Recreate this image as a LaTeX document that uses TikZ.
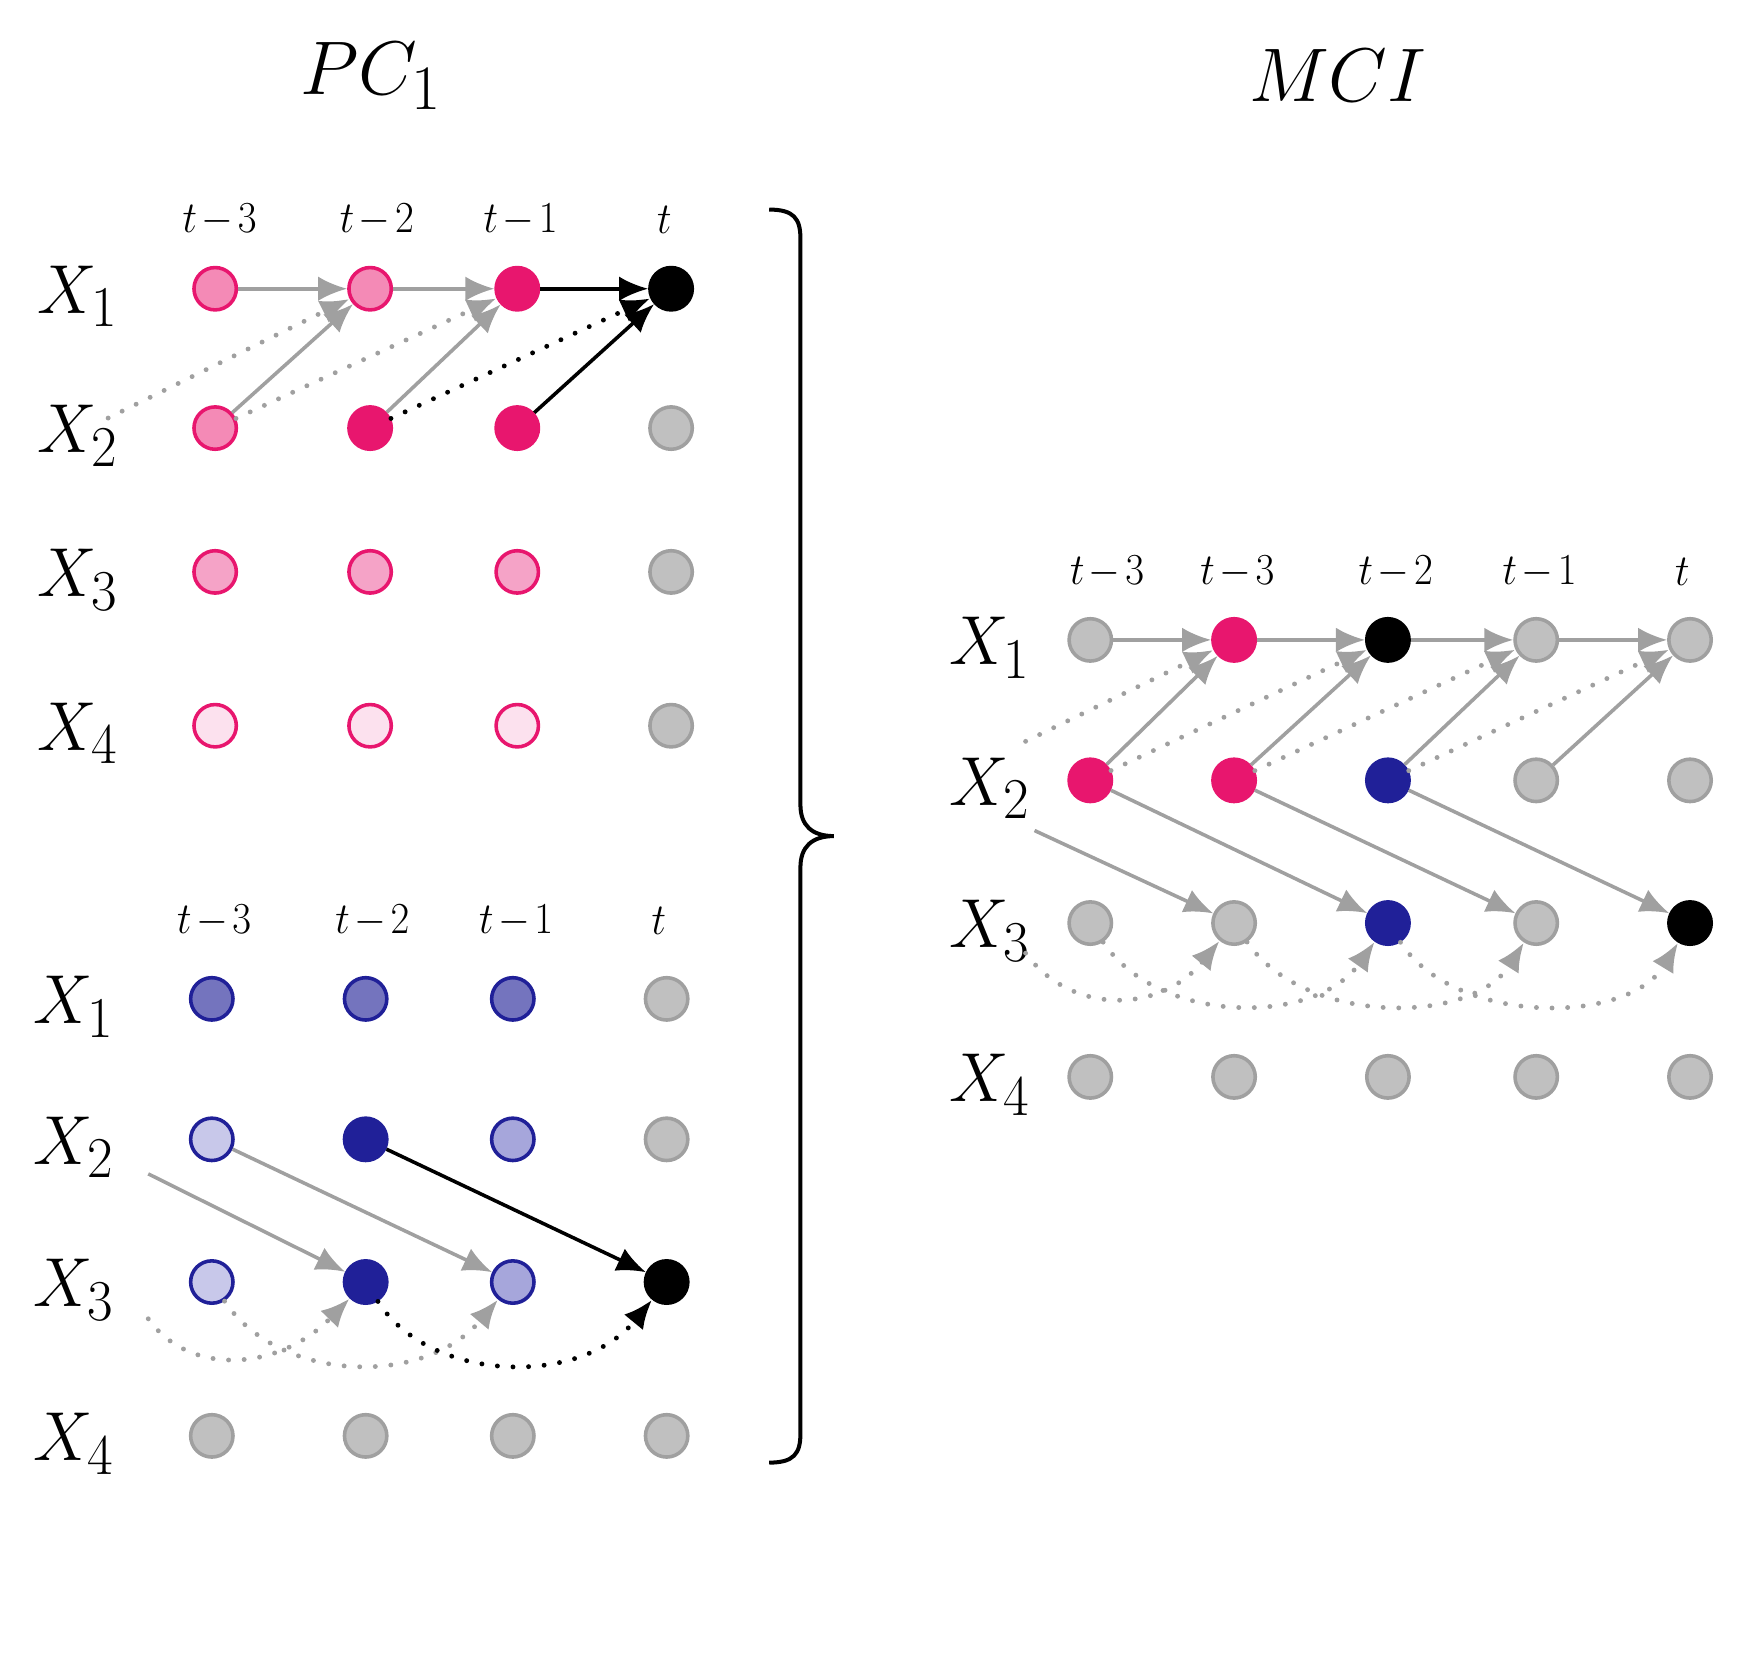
\documentclass[tikz,border=0pt]{standalone}
\usetikzlibrary{arrows.meta}
\definecolor{pk}{RGB}{232,22,110}
\definecolor{pkA}{RGB}{244,138,182}
\definecolor{pkB}{RGB}{245,163,199}
\definecolor{pkC}{RGB}{252,225,238}
\definecolor{bl}{RGB}{32,32,152}
\definecolor{blA}{RGB}{116,116,190}
\definecolor{blB}{RGB}{166,166,219}
\definecolor{blC}{RGB}{200,200,234}
\definecolor{gF}{RGB}{192,192,192}
\definecolor{gB}{RGB}{160,160,160}
\newcommand{\rlab}[1]{\scalebox{1.2}[1.25]{$X_{#1}$}}
\newcommand{\ttl}[1]{\scalebox{1.37}{$#1$}}
\newcommand{\clab}[1]{\scalebox{1.06}[1.15]{$#1$}}
\tikzset{
  dot/.style={circle,minimum size=19pt,inner sep=0pt,line width=1.6pt},
  gn/.style={dot,draw=gB,fill=gF},
  pA/.style={dot,draw=pk,fill=pkA},
  pB/.style={dot,draw=pk,fill=pkB},
  pC/.style={dot,draw=pk,fill=pkC},
  pS/.style={dot,draw=pk,fill=pk},
  bA/.style={dot,draw=bl,fill=blA},
  bB/.style={dot,draw=bl,fill=blB},
  bC/.style={dot,draw=bl,fill=blC},
  bS/.style={dot,draw=bl,fill=bl},
  kS/.style={dot,draw=black,fill=black},
  ga/.style={draw=gB,line width=1.6pt,-{Latex[length=13pt,width=11pt]}},
  ka/.style={draw=black,line width=1.6pt,-{Latex[length=13pt,width=11pt]}},
  gd/.style={ga,line cap=round,line width=2.2pt,dash pattern=on 0pt off 7pt},
  kd/.style={ka,line cap=round,line width=2.2pt,dash pattern=on 0pt off 7pt},
  rl/.style={font=\Huge},
  cl/.style={font=\LARGE},
  tl/.style={font=\Huge},
}
\begin{document}
\begin{tikzpicture}[x=0.5pt,y=-0.5pt]
\useasboundingbox (0,0) rectangle (1568,1503);
% titles
\node[tl] (tPC) at (333,68) {\ttl{PC_1}};
\node[tl] (tMCI) at (1200,68) {\ttl{MCI}};
% ---------- top PC1 ----------
\foreach \n/\x/\t in {a/197/t\mkern-2mu-\mkern-2mu3,b/338/t\mkern-2mu-\mkern-2mu2,c/467/t\mkern-2mu-\mkern-2mu1,d/596/t}
  \node[cl] (ptl\n) at (\x,197) {\clab{\t}};
\foreach \i/\y in {1/259,2/384,3/513,4/651}
  \node[rl] (ptr\i) at (70,\y+7) {\rlab{\i}};
\node[pA] (p1a) at (193,259) {};
\node[pA] (p1b) at (332,259) {};
\node[pS] (p1c) at (464,259) {};
\node[kS] (p1d) at (602,259) {};
\node[pA] (p2a) at (193,384) {};
\node[pS] (p2b) at (332,384) {};
\node[pS] (p2c) at (464,384) {};
\node[gn] (p2d) at (602,384) {};
\node[pB] (p3a) at (193,513) {};
\node[pB] (p3b) at (332,513) {};
\node[pB] (p3c) at (464,513) {};
\node[gn] (p3d) at (602,513) {};
\node[pC] (p4a) at (193,651) {};
\node[pC] (p4b) at (332,651) {};
\node[pC] (p4c) at (464,651) {};
\node[gn] (p4d) at (602,651) {};
\coordinate (pv) at (97,375);
\draw[gd] (pv) -- (p1b);
\draw[gd] (p2a) -- (p1c);
\draw[kd] (p2b) -- (p1d);
\draw[ga] (p1a) -- (p1b);
\draw[ga] (p2a) -- (p1b);
\draw[ga] (p1b) -- (p1c);
\draw[ga] (p2b) -- (p1c);
\draw[ka] (p1c) -- (p1d);
\draw[ka] (p2c) -- (p1d);
% ---------- bottom PC1 ----------
\foreach \n/\x/\t in {a/192/t\mkern-2mu-\mkern-2mu3,b/334/t\mkern-2mu-\mkern-2mu2,c/463/t\mkern-2mu-\mkern-2mu1,d/591/t}
  \node[cl] (qtl\n) at (\x,826) {\clab{\t}};
\foreach \i/\y in {1/896,2/1022,3/1150,4/1288}
  \node[rl] (qtr\i) at (66,\y+7) {\rlab{\i}};
\node[bA] (q1a) at (190,896) {};
\node[bA] (q1b) at (328,896) {};
\node[bA] (q1c) at (460,896) {};
\node[gn] (q1d) at (598,896) {};
\node[bC] (q2a) at (190,1022) {};
\node[bS] (q2b) at (328,1022) {};
\node[bB] (q2c) at (460,1022) {};
\node[gn] (q2d) at (598,1022) {};
\node[bC] (q3a) at (190,1150) {};
\node[bS] (q3b) at (328,1150) {};
\node[bB] (q3c) at (460,1150) {};
\node[kS] (q3d) at (598,1150) {};
\node[gn] (q4a) at (190,1288) {};
\node[gn] (q4b) at (328,1288) {};
\node[gn] (q4c) at (460,1288) {};
\node[gn] (q4d) at (598,1288) {};
\coordinate (qv1) at (133,1053);
\coordinate (qv2) at (133,1183);
\draw[ga] (qv1) -- (q3b);
\draw[ga] (q2a) -- (q3c);
\draw[ka] (q2b) -- (q3d);
\draw[gd] (qv2) .. controls (170,1235) and (250,1230) .. (q3b);
\draw[gd] (q3a) .. controls (250,1240) and (380,1245) .. (q3c);
\draw[kd] (q3b) .. controls (385,1240) and (520,1245) .. (q3d);
% ---------- brace ----------
\draw[line width=1.8pt] (690,188) .. controls (712,188) and (718,196) .. (718,214) -- (718,722)
  .. controls (718,740) and (728,750) .. (748,750)
  .. controls (728,750) and (718,760) .. (718,778) -- (718,1286)
  .. controls (718,1304) and (712,1312) .. (690,1312);
% ---------- MCI ----------
\foreach \n/\x/\t in {a/993/t\mkern-2mu-\mkern-2mu3,b/1110/t\mkern-2mu-\mkern-2mu3,c/1252/t\mkern-2mu-\mkern-2mu2,d/1381/t\mkern-2mu-\mkern-2mu1,e/1509/t}
  \node[cl] (mtl\n) at (\x,513) {\clab{\t}};
\foreach \i/\y in {1/574,2/700,3/828,4/966}
  \node[rl] (mtr\i) at (888,\y+7) {\rlab{\i}};
\node[gn] (m1a) at (978,574) {};
\node[pS] (m1b) at (1107,574) {};
\node[kS] (m1c) at (1245,574) {};
\node[gn] (m1d) at (1378,574) {};
\node[gn] (m1e) at (1516,574) {};
\node[pS] (m2a) at (978,700) {};
\node[pS] (m2b) at (1107,700) {};
\node[bS] (m2c) at (1245,700) {};
\node[gn] (m2d) at (1378,700) {};
\node[gn] (m2e) at (1516,700) {};
\node[gn] (m3a) at (978,828) {};
\node[gn] (m3b) at (1107,828) {};
\node[bS] (m3c) at (1245,828) {};
\node[gn] (m3d) at (1378,828) {};
\node[kS] (m3e) at (1516,828) {};
\node[gn] (m4a) at (978,966) {};
\node[gn] (m4b) at (1107,966) {};
\node[gn] (m4c) at (1245,966) {};
\node[gn] (m4d) at (1378,966) {};
\node[gn] (m4e) at (1516,966) {};
\coordinate (mv1) at (920,665);
\coordinate (mv2) at (928,745);
\coordinate (mv3) at (920,855);
% dotted lag-2 X2 -> X1
\draw[gd] (mv1) -- (m1b);
\draw[gd] (m2a) -- (m1c);
\draw[gd] (m2b) -- (m1d);
\draw[gd] (m2c) -- (m1e);
% X1 autodependence
\draw[ga] (m1a) -- (m1b);
\draw[ga] (m1b) -- (m1c);
\draw[ga] (m1c) -- (m1d);
\draw[ga] (m1d) -- (m1e);
% X2 -> X1 lag 1
\draw[ga] (m2a) -- (m1b);
\draw[ga] (m2b) -- (m1c);
\draw[ga] (m2c) -- (m1d);
\draw[ga] (m2d) -- (m1e);
% X2 -> X3 lag 2
\draw[ga] (mv2) -- (m3b);
\draw[ga] (m2a) -- (m3c);
\draw[ga] (m2b) -- (m3d);
\draw[ga] (m2c) -- (m3e);
% X3 lag-2 arcs
\draw[gd] (mv3) .. controls (960,910) and (1040,910) .. (m3b);
\draw[gd] (m3a) .. controls (1040,920) and (1180,920) .. (m3c);
\draw[gd] (m3b) .. controls (1170,920) and (1320,920) .. (m3d);
\draw[gd] (m3c) .. controls (1305,920) and (1460,920) .. (m3e);
\end{tikzpicture}
\end{document}
